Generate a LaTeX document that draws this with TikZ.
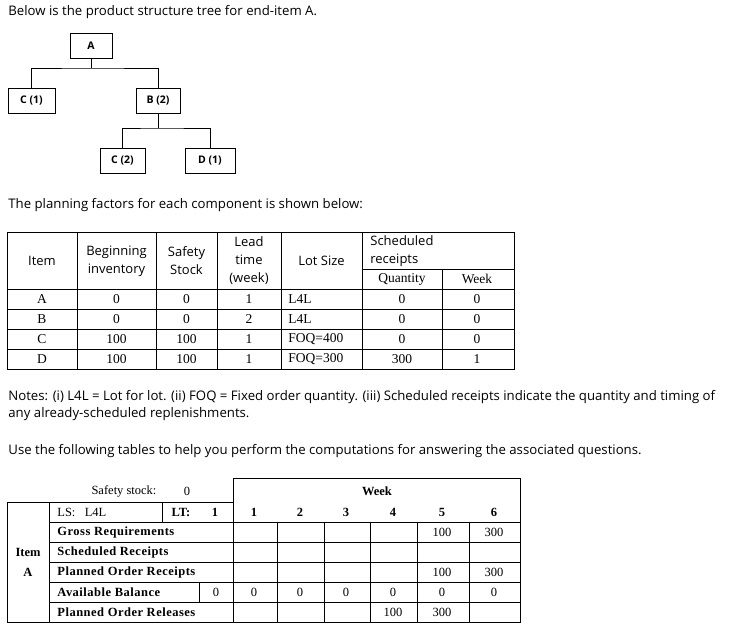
\documentclass[tikz,border=0pt]{standalone}
\usepackage{fontspec}
\setmainfont{Liberation Serif}
\newfontfamily\uisans{Open Sans}
\newfontfamily\wideserif[LetterSpace=4]{Liberation Serif}
\begin{document}
\begin{tikzpicture}[x=1pt,y=-1pt,line width=0.8pt,
  bx/.style={draw,font=\uisans\bfseries\fontsize{10.5}{12}\selectfont,inner sep=0},
  tx/.style={anchor=west,font=\uisans\fontsize{13.2}{16}\selectfont,inner sep=0},
  hs/.style={font=\uisans\fontsize{13}{18}\selectfont,align=center,inner sep=0},
  sv/.style={font=\fontsize{13.5}{16}\selectfont,inner sep=0},
  bv/.style={font=\bfseries\fontsize{12.5}{15}\selectfont,inner sep=0},
  bl/.style={font=\wideserif\bfseries\fontsize{12.5}{15}\selectfont,inner sep=0},
  vv/.style={font=\fontsize{12.5}{15}\selectfont,inner sep=0},
  gl/.style={line width=0.7pt}]
\useasboundingbox (0,0) rectangle (737,634);
\node[tx] (t1) at (8,12) {Below is the product structure tree for end-item A.};
% tree
\node[bx,minimum width=42,minimum height=25] (A) at (91,45.5) {A};
\node[bx,minimum width=47,minimum height=25] (C1) at (31.5,100.5) {C (1)};
\node[bx,minimum width=44,minimum height=25] (B2) at (158,100.5) {B (2)};
\node[bx,minimum width=45,minimum height=25] (C2) at (122.5,160.5) {C (2)};
\node[bx,minimum width=50,minimum height=25] (D1) at (210,160.5) {D (1)};
\coordinate (j1) at (91,68);
\coordinate (j2) at (158,128);
\draw (A.south) -- (j1);
\draw (C1.north) |- (j1) -| (B2.north);
\draw (B2.south) -- (j2);
\draw (C2.north) |- (j2) -| (D1.north);
\node[tx] (t2) at (8,205) {The planning factors for each component is shown below:};
% table 1
\draw[gl] (7,232) rectangle (514,369);
\foreach \y in {289,309,329,349} \draw[gl] (7,\y) -- (514,\y);
\foreach \x in {77,156,217,281,362} \draw[gl] (\x,232) -- (\x,369);
\draw[gl] (362,269) -- (514,269);
\draw[gl] (442,269) -- (442,369);
\node[hs] (h1) at (42,261) {Item};
\node[hs] (h2) at (116.5,261) {Beginning\\inventory};
\node[hs] (h3) at (186.5,261) {Safety\\Stock};
\node[hs] (h4) at (249,261) {Lead\\time\\(week)};
\node[hs] (h5) at (321.5,261) {Lot Size};
\node[hs,anchor=west,align=left] (h6) at (370,251) {Scheduled\\receipts};
\node[sv] (h7) at (402,279) {Quantity};
\node[sv] (h8) at (477,279) {Week};
\foreach \r/\y/\a/\b/\c/\d/\e/\f/\g in {0/299/A/0/0/1/L4L/0/0,1/319/B/0/0/2/L4L/0/0,2/339/C/100/100/1/FOQ=400/0/0,3/359/D/100/100/1/FOQ=300/300/1}{
  \node[sv] (ra\r) at (42,\y) {\a};
  \node[sv] (rb\r) at (116.5,\y) {\b};
  \node[sv] (rc\r) at (186.5,\y) {\c};
  \node[sv] (rd\r) at (249,\y) {\d};
  \node[sv,anchor=west] (re\r) at (288,\y) {\e};
  \node[sv] (rf\r) at (402,\y) {\f};
  \node[sv] (rg\r) at (477,\y) {\g};
}
\node[tx] (n1) at (8,397) {Notes: (i) L4L = Lot for lot. (ii) FOQ = Fixed order quantity. (iii) Scheduled receipts indicate the quantity and timing of};
\node[tx] (n2) at (8,414) {any already-scheduled replenishments.};
\node[tx] (n3) at (8,451) {Use the following tables to help you perform the computations for answering the associated questions.};
% table 2
\draw[gl] (233,478) -- (520,478) -- (520,622) -- (7,622) -- (7,502) -- (233,502);
\draw[gl] (233,478) -- (233,622);
\draw[gl] (49,502) -- (49,622);
\draw[gl] (162,502) -- (162,522);
\draw[gl] (199,582) -- (199,602);
\foreach \y in {522,542,562,582,602} \draw[gl] (49,\y) -- (520,\y);
\foreach \x in {277,324,370,417,469} \draw[gl] (\x,522) -- (\x,622);
\node[vv] (ss) at (124,491) {Safety stock:};
\node[vv] (ssv) at (187,491) {0};
\node[bv] (wk) at (377,491) {Week};
\node[vv,anchor=west] (ls) at (57,512) {LS:\ \ \ L4L};
\node[bv] (lt) at (181,512) {LT:};
\node[bv] (ltv) at (215,512) {1};
\foreach \i/\x in {1/254,2/300,3/346,4/393,5/442,6/494} \node[bv] (w\i) at (\x,512) {\i};
\node[bv,align=center,font=\bfseries\fontsize{12.5}{20}\selectfont] (it) at (28,562) {Item\\A};
\foreach \i/\y/\t in {1/532/Gross Requirements,2/552/Scheduled Receipts,3/572/Planned Order Receipts,4/592/Available Balance,5/612/Planned Order Releases}
  \node[bl,anchor=west] (l\i) at (57,\y) {\t};
\node[vv] (g5) at (442,532) {100}; \node[vv] (g6) at (494,532) {300};
\node[vv] (p5) at (442,572) {100}; \node[vv] (p6) at (494,572) {300};
\node[vv] (a0) at (216,592) {0};
\foreach \i/\x in {1/254,2/300,3/346,4/393,5/442,6/494} \node[vv] (a\i) at (\x,592) {0};
\node[vv] (r4) at (393,612) {100}; \node[vv] (r5) at (442,612) {300};
\end{tikzpicture}
\end{document}
